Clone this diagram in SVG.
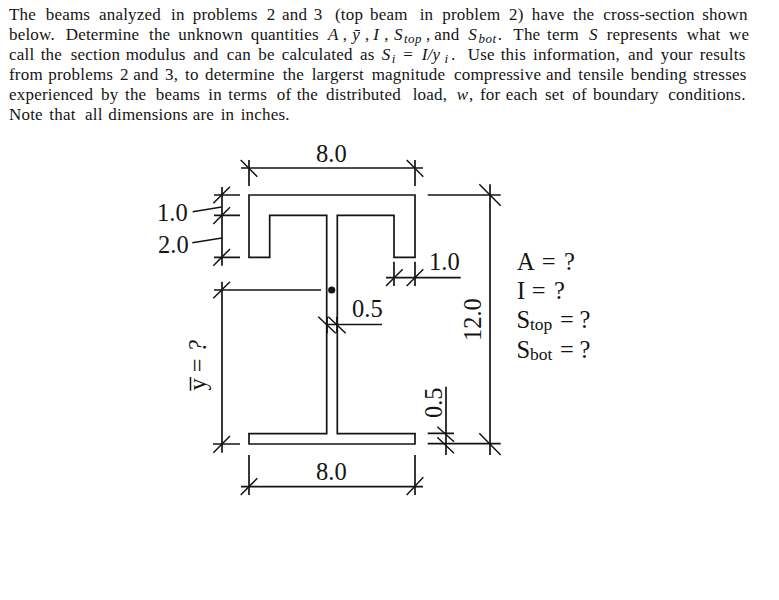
<svg xmlns="http://www.w3.org/2000/svg" width="779" height="600" viewBox="0 0 779 600">
<style>
text{fill:#141414}
.p{font-family:"Liberation Serif","Times New Roman",serif;font-size:17px;letter-spacing:.2px}
.i{font-style:italic}
.sub{font-size:13px;letter-spacing:.5px}
.d{font-family:"Liberation Serif","Times New Roman",serif;font-size:24.5px}
.l{font-family:"Liberation Serif","Times New Roman",serif;font-size:24.5px}
.s{font-size:17.5px}
.k,.beam{fill:none;stroke:#141414;stroke-width:1.7}
.beam{stroke-linejoin:miter}
.t{fill:none;stroke:#141414;stroke-width:1.5}
</style>
<rect width="779" height="600" fill="#fff"/>
<g id="problem-text">
<text class="p" y="20"><tspan x="9">The </tspan><tspan x="45.7">beams </tspan><tspan x="99">analyzed </tspan><tspan x="171">in </tspan><tspan x="192.7">problems </tspan><tspan x="266.7">2 </tspan><tspan x="282">and </tspan><tspan x="313.7">3 </tspan><tspan x="335">(top </tspan><tspan x="370">beam </tspan><tspan x="419.7">in </tspan><tspan x="442.3">problem </tspan><tspan x="509">2) </tspan><tspan x="531.7">have </tspan><tspan x="573">the </tspan><tspan x="603.3">cross-section </tspan><tspan x="702.3">shown</tspan></text>
<text class="p" y="40"><tspan x="9">below. </tspan><tspan x="65.7">Determine </tspan><tspan x="149">the </tspan><tspan x="178.3">unknown </tspan><tspan x="250.7">quantities </tspan><tspan x="328" class="i">A</tspan><tspan x="342.7">, </tspan><tspan x="352.3" class="i">ȳ</tspan><tspan x="365">, </tspan><tspan x="373.3" class="i">I</tspan><tspan x="384.3">, </tspan><tspan x="394" class="i">S</tspan><tspan class="i sub" x="404" dy="3">top</tspan><tspan x="426" dy="-3">, </tspan><tspan x="434.3">and </tspan><tspan x="468.3" class="i">S</tspan><tspan class="i sub" x="478.5" dy="3">bot</tspan><tspan x="497.7" dy="-3">. </tspan><tspan x="513.3">The </tspan><tspan x="547">term </tspan><tspan x="589" class="i">S </tspan><tspan x="606.7">represents </tspan><tspan x="686.7">what </tspan><tspan x="729">we</tspan></text>
<text class="p" y="60"><tspan x="9">call </tspan><tspan x="40.7">the </tspan><tspan x="70.7">section </tspan><tspan x="125.7">modulus </tspan><tspan x="193.3">and </tspan><tspan x="226.7">can </tspan><tspan x="258.3">be </tspan><tspan x="281.7">calculated </tspan><tspan x="360">as </tspan><tspan x="381.7" class="i">S</tspan><tspan class="i sub" x="391.7" dy="3">i </tspan><tspan x="403.3" dy="-3">= </tspan><tspan x="421.7" class="i">I/y</tspan><tspan class="i sub" x="444.5" dy="3">i</tspan><tspan x="451" dy="-3">. </tspan><tspan x="467.7">Use </tspan><tspan x="500.7">this </tspan><tspan x="533">information, </tspan><tspan x="628">and </tspan><tspan x="660.7">your </tspan><tspan x="699.7">results</tspan></text>
<text class="p" y="80"><tspan x="9">from </tspan><tspan x="48.3">problems </tspan><tspan x="120">2 </tspan><tspan x="133.3">and </tspan><tspan x="165">3, </tspan><tspan x="185">to </tspan><tspan x="205">determine </tspan><tspan x="282.7">the </tspan><tspan x="311.7">largerst </tspan><tspan x="371.7">magnitude </tspan><tspan x="454">compressive </tspan><tspan x="546">and </tspan><tspan x="578.3">tensile </tspan><tspan x="630.7">bending </tspan><tspan x="693">stresses</tspan></text>
<text class="p" y="100"><tspan x="9">experienced </tspan><tspan x="101">by </tspan><tspan x="125">the </tspan><tspan x="155.7">beams </tspan><tspan x="208.3">in </tspan><tspan x="228.3">terms </tspan><tspan x="276.7">of </tspan><tspan x="296.7">the </tspan><tspan x="326">distributed </tspan><tspan x="412.7">load, </tspan><tspan x="456.7" class="i">w</tspan><tspan x="469">, </tspan><tspan x="480">for </tspan><tspan x="505.7">each </tspan><tspan x="545">set </tspan><tspan x="572.3">of </tspan><tspan x="593">boundary </tspan><tspan x="668.3">conditions.</tspan></text>
<text class="p" y="120"><tspan x="9">Note </tspan><tspan x="49.3">that </tspan><tspan x="85">all </tspan><tspan x="108.3">dimensions </tspan><tspan x="192.7">are </tspan><tspan x="220.7">in </tspan><tspan x="240.7">inches.</tspan></text>
</g>
<g id="beam-section">
<path class="beam" d="M249 195H415V257.3H394V215.3H337.3V433.7H415V444H249V433.7H326.7V215.3H269.7V257.3H249Z"/>
<circle cx="331.7" cy="290" r="3.6" fill="#141414"/>
</g>
<g id="connectors">
<g id="dim-top-width">
<path class="k" d="M241 168H423M249 160V186M415 160V186"/>
<path class="t" d="M240.7 160L257.3 176.7M406.7 160L423.3 176.7"/>
</g>
<g id="dim-left-flange">
<path class="k" d="M222 187V265.7M214 195H240M214 215.3H240M214 257.3H240"/>
<path class="t" d="M213.3 203.3L230 186.7M213.3 224L230 207.3M213.3 265.7L230 249"/>
<path class="t" d="M192.7 211.7L221.7 207M192.3 242.7L222 238"/>
</g>
<g id="dim-ybar">
<path class="k" d="M222 281.7V452.7M214 290H321M213 444H240"/>
<path class="t" d="M213.3 298.3L230 281.7M213.3 452.7L230 436"/>
</g>
<g id="dim-flange-leg">
<path class="k" d="M394 261.7V286M415 261.7V286M386 277.7H460.7"/>
<path class="t" d="M386 286L402.7 269.3M406.7 286L423.3 269.3"/>
</g>
<g id="dim-web">
<path class="k" d="M327 316.7V333.3M337 316.7V333.3M327 324.5H382"/>
<path class="t" d="M318.3 316.7L335.7 333.3M328.3 316.7L345.7 333.3"/>
</g>
<g id="dim-height">
<path class="k" d="M490 184.3V455M427.7 195H500.7M427.7 443.7H500.7"/>
<path class="t" d="M479.3 184.3L500.7 205.7M479.3 433.3L500.7 455"/>
</g>
<g id="dim-bottom-flange">
<path class="k" d="M446 386.7V455M427.7 433.3H454"/>
<path class="t" d="M437.3 426.7L454 441.7M437.3 437.3L454 453.3"/>
</g>
<g id="dim-bottom-width">
<path class="k" d="M241 486.7H423M249 455V495M415 455V495"/>
<path class="t" d="M240.7 495L257.3 478.3M406.7 495L423.3 477.3"/>
</g>
</g>
<g id="dim-labels">
<text class="d" x="316" y="162">8.0</text>
<text class="d" x="157" y="221">1.0</text>
<text class="d" x="158" y="253">2.0</text>
<text class="d" x="429" y="270">1.0</text>
<text class="d" x="352" y="317">0.5</text>
<text class="d" x="316" y="480">8.0</text>
<text class="d" transform="translate(480.7 341) rotate(-90)">12.0</text>
<text class="d" transform="translate(441.7 418) rotate(-90)">0.5</text>
<text class="d" transform="translate(206 390.5) rotate(-90)">y = <tspan class="i">?</tspan></text>
<path class="t" d="M190.5 390.7V377"/>
</g>
<g id="unknowns">
<text class="l" y="270"><tspan x="517">A </tspan><tspan x="541.7">= </tspan><tspan x="564">?</tspan></text>
<text class="l" y="299"><tspan x="517">I </tspan><tspan x="531.7">= </tspan><tspan x="554">?</tspan></text>
<text class="l" y="328"><tspan x="516.5">S</tspan><tspan class="s" x="530" dy="2">top </tspan><tspan x="560" dy="-2">= </tspan><tspan x="579.5">?</tspan></text>
<text class="l" y="358"><tspan x="516.5">S</tspan><tspan class="s" x="530" dy="2">bot </tspan><tspan x="560" dy="-2">= </tspan><tspan x="579.5">?</tspan></text>
</g>
</svg>
